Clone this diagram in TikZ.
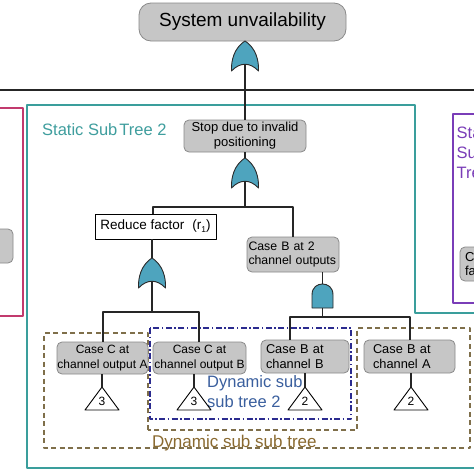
\documentclass[tikz,border=0pt]{standalone}
\usepackage{fontspec}
\setmainfont{Liberation Sans}
\definecolor{boxfill}{HTML}{C6C6C6}
\definecolor{boxborder}{HTML}{8A8A8A}
\definecolor{gatefill}{HTML}{4EA4BE}
\definecolor{gateline}{HTML}{2A2A2A}
\definecolor{tealc}{HTML}{3A9E9C}
\definecolor{tealtext}{HTML}{3F9E9E}
\definecolor{magc}{HTML}{C23A6E}
\definecolor{purpc}{HTML}{7A3DB8}
\definecolor{bluedd}{HTML}{2B2B8F}
\definecolor{bluetext}{HTML}{3A5F9E}
\definecolor{brownc}{HTML}{7F6F4A}
\definecolor{browntext}{HTML}{8A6A30}
\newcommand{\fsz}[2]{\fontsize{#1}{#2}\selectfont}
\begin{document}
\begin{tikzpicture}[x=1pt,y=-1pt,line join=round,
  conn/.style={draw=black!85, line width=1.1pt},
  gbox/.style={draw=boxborder, fill=boxfill, rounded corners=5pt, line width=0.8pt, inner sep=0pt},
  gatestyle/.style={fill=gatefill, draw=gateline, line width=0.9pt},
  frame/.style={line width=1.4pt},
  orgate/.pic={
    \path[gatestyle] (-13.5,30) .. controls (-14,12) and (-6,4) .. (0,0) .. controls (6,4) and (14,12) .. (13.5,30) .. controls (5,21) and (-5,21) .. (-13.5,30) -- cycle;
    \coordinate (-out) at (0,0);
    \coordinate (-in) at (0,23.2);
  },
  andgate/.pic={
    \path[gatestyle] (-10.5,24) -- (-10.5,11) .. controls (-10.5,3) and (-5,0) .. (0,0) .. controls (5,0) and (10.5,3) .. (10.5,11) -- (10.5,24) -- cycle;
    \coordinate (-out) at (0,0);
    \coordinate (-in) at (0,24);
  },
  xfer/.pic={
    \draw[line width=0.9pt, fill=white] (0,0) -- (17,23) -- (-17,23) -- cycle;
    \coordinate (-top) at (0,0);
    \node[inner sep=0pt, font=\fsz{12}{12}] (-n) at (0,14.5) {#1};
  }
]
\useasboundingbox (0,0) rectangle (474,474);
\fill[white] (0,0) rectangle (474,474);
\clip (0,0) rectangle (474,474);

% frames
\draw[frame, tealc] (480,313) -- (415,313) -- (415,105) -- (27,105) -- (27,468) -- (480,468);
\draw[frame, magc] (-5,108) -- (23,108) -- (23,316) -- (-5,316);
\draw[frame, purpc] (480,114) -- (453,114) -- (453,303) -- (480,303);
\draw[brownc, line width=1.3pt, dash pattern=on 5pt off 3.5pt] (148,430) -- (148,333) -- (44,333) -- (44,448) -- (470,448) -- (470,328) -- (357,328) -- (357,430) -- cycle;
\draw[bluedd, line width=1.4pt, dash pattern=on 6pt off 2.5pt on 1.5pt off 2.5pt] (150,328) rectangle (351,419);

% labels
\node[anchor=base west, inner sep=0pt, text=tealtext, font=\fsz{16.5}{19}] (lblS2) at (42,135) {Static Sub\kern2pt Tree 2};
\node[anchor=north west, inner sep=0pt, align=left, text=purpc, font=\fsz{16.5}{20}] (lblS3) at (456.5,126) {Static\\Sub\\Tree};
\node[anchor=north west, inner sep=0pt, align=left, text=bluetext, font=\fsz{16.5}{20}] (lblD2) at (207,375) {Dynamic sub\\sub tree 2};
\node[anchor=base west, inner sep=0pt, text=browntext, font=\fsz{17}{20}] (lblDD) at (152,447) {Dynamic sub sub tree};

% boxes
\node[gbox, rounded corners=12pt, minimum width=207, minimum height=38, font=\fsz{19}{22}] (sys) at (242.5,22) {System unvailability};
\node[gbox, minimum width=122, minimum height=32, align=center, font=\fsz{13}{15}] (stop) at (245,136) {Stop due to invalid\\positioning};
\node[draw=black, fill=white, line width=0.8pt, minimum width=121, minimum height=25, inner sep=0pt, font=\fsz{13.5}{15}] (reduce) at (155.5,226.5) {Reduce factor\hspace{8pt}(r\raisebox{-2.5pt}{\fsz{8.5}{9}1})};
\node[gbox, minimum width=92, minimum height=35, text width=89, align=left, font=\fsz{12.3}{14}] (caseB2) at (293,254.5) {Case B at 2\\channel outputs};
\node[gbox, minimum width=91, minimum height=32, align=center, font=\fsz{12}{15}] (cCA) at (102.5,358) {Case C at\\channel output A};
\node[gbox, minimum width=93, minimum height=32, align=center, font=\fsz{12}{15}] (cCB) at (199.5,358) {Case C at\\channel output B};
\node[gbox, minimum width=88, minimum height=33, text width=78, align=left, font=\fsz{12.8}{14.5}] (cBB) at (305,356.5) {Case B at\\channel B};
\node[gbox, minimum width=91, minimum height=33, text width=73, align=left, font=\fsz{12.8}{14.5}] (cBA) at (409.5,356.5) {Case B at\\channel A};
\node[gbox, minimum width=60, minimum height=34] (lbox) at (-17,246) {};
\node[gbox, minimum width=60, minimum height=34, text width=50, align=left, font=\fsz{13}{14.5}] (rbox) at (490,264) {Case\\factor};

% gates
\pic (g1) at (245,41) {orgate};
\pic (g2) at (245,158) {orgate};
\pic (g3) at (152,258) {orgate};
\pic (ga) at (322.5,284) {andgate};

% transfer triangles
\pic (t1) at (102,387) {xfer=3};
\pic (t2) at (194,387) {xfer=3};
\pic (t3) at (305,387) {xfer=2};
\pic (t4) at (411,387) {xfer=2};

% connectors
\coordinate (hl) at (0,90);
\coordinate (hr) at (474,90);
\draw[conn] (hl) -- (hr);
\draw[conn] (g1-in) -- (stop.north);
\draw[conn] (stop.south) -- (g2-out);
\coordinate (j2) at (245,207);
\coordinate (j2l) at (153,207);
\coordinate (j2r) at (293,207);
\draw[conn] (g2-in) -- (j2);
\draw[conn] (reduce.north -| j2l) -- (j2l) -- (j2r) -- (caseB2.north);
\draw[conn] (reduce.south -| g3-out) -- (g3-out);
\coordinate (j3) at (152,312);
\coordinate (j3l) at (103,312);
\coordinate (j3r) at (199,312);
\draw[conn] (g3-in) -- (j3);
\draw[conn] (cCA.north -| j3l) -- (j3l) -- (j3r) -- (cCB.north -| j3r);
\draw[conn] (caseB2.south -| ga-out) -- (ga-out);
\coordinate (j4) at (322.5,317);
\coordinate (j4l) at (290,317);
\coordinate (j4r) at (410,317);
\draw[conn] (ga-in) -- (j4);
\draw[conn] (cBB.north -| j4l) -- (j4l) -- (j4r) -- (cBA.north -| j4r);
\draw[conn] (cCA.south -| t1-top) -- (t1-top);
\draw[conn] (cCB.south -| t2-top) -- (t2-top);
\draw[conn] (cBB.south -| t3-top) -- (t3-top);
\draw[conn] (cBA.south -| t4-top) -- (t4-top);
\end{tikzpicture}
\end{document}
